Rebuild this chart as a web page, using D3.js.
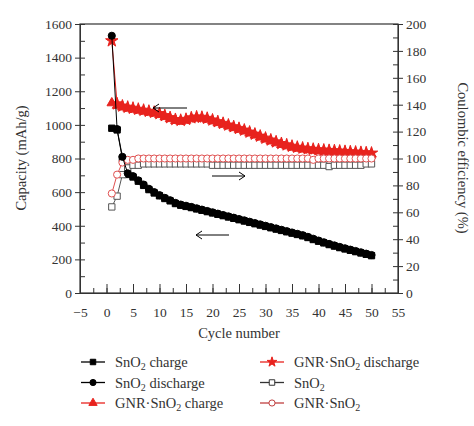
<!DOCTYPE html>
<html lang="en">
<head>
<meta charset="utf-8">
<script src="https://d3js.org/d3.v7.min.js"></script>
<style>body{margin:0;background:#fff}text{font-family:"Liberation Serif",serif;fill:#333}</style>
</head>
<body>
<script>
var cycles = d3.range(1, 51);
var sno2Charge = [980,970,800,705,690,665,640,615,595,578,562,548,532,522,515,508,500,492,484,476,468,460,452,444,436,428,420,412,404,396,388,380,372,364,356,348,340,330,318,308,298,288,279,270,262,254,246,238,230,222];
var sno2Discharge = [1530,975,810,712,695,670,645,620,600,582,566,552,536,526,519,512,504,496,488,480,472,464,456,448,440,432,424,416,408,400,392,384,376,368,360,352,344,334,323,312,302,292,283,274,266,258,250,242,234,226];
var gnrCharge = [1130,1115,1105,1098,1092,1086,1080,1074,1068,1060,1048,1036,1025,1020,1026,1035,1040,1038,1032,1022,1012,1002,992,982,972,962,950,938,926,914,903,892,882,874,866,860,855,851,848,845,843,841,839,837,835,833,831,829,827,825];
var gnrDischarge = [1500,1125,1112,1105,1099,1093,1087,1081,1075,1067,1055,1043,1032,1027,1033,1042,1047,1045,1039,1029,1019,1009,999,989,979,969,957,945,933,921,910,899,889,881,873,867,862,858,855,852,850,848,846,844,842,840,838,836,834,832];
var ceSnO2 = [64,72,88,93,95,95,96,96,96,96,96,96,96,96,96,96,96,96,96,95,95,95,95,95,95,95,95,95,95,95,95,95,95,95,95,95,95,95,95,95,95,94,95,95,95,95,95,95,96,96];
var ceGnr = [74,88,97,99,99,100,100,100,100,100,100,100,100,100,100,100,100,100,100,100,100,100,100,100,100,100,100,100,100,100,100,100,100,100,100,100,100,100,99,100,100,100,100,100,100,100,100,100,100,100];
var xTicks = d3.range(-5, 56, 5);
var yTicks = d3.range(0, 1601, 200);
var y2Ticks = d3.range(0, 201, 20);

var red = "#e8231e";
var svg = d3.select("body").append("svg").attr("width", 474).attr("height", 426);
var x = d3.scaleLinear().domain([-5, 55]).range([80, 398]);
var y = d3.scaleLinear().domain([0, 1600]).range([293, 24]);
var y2 = d3.scaleLinear().domain([0, 200]).range([293, 24]);

// frame
svg.append("rect").attr("x", 80).attr("y", 24).attr("width", 318).attr("height", 269)
  .attr("fill", "none").attr("stroke", "#333").attr("stroke-width", 1.2);

function axisStyle(g){ g.selectAll("path").attr("stroke", "#333"); g.selectAll("line").attr("stroke", "#333"); g.selectAll("text").attr("font-size", 13.5).attr("font-family", "Liberation Serif").attr("fill", "#333"); }

svg.append("g").attr("transform", "translate(0,293)")
  .call(d3.axisBottom(x).tickValues(d3.range(-5, 55.1, 2.5)).tickSize(-5).tickFormat(""))
  .call(axisStyle);
svg.append("g").attr("transform", "translate(0,293)")
  .call(d3.axisBottom(x).tickValues(xTicks).tickSize(-9).tickPadding(14).tickFormat(d => d < 0 ? "\u2212" + (-d) : d))
  .call(axisStyle);
svg.append("g").attr("transform", "translate(80,0)")
  .call(d3.axisLeft(y).tickValues(d3.range(0, 1601, 100)).tickSize(-5).tickFormat(""))
  .call(axisStyle);
svg.append("g").attr("transform", "translate(80,0)")
  .call(d3.axisLeft(y).tickValues(yTicks).tickSize(5).tickFormat(d => d))
  .call(axisStyle);
svg.append("g").attr("transform", "translate(398,0)")
  .call(d3.axisRight(y2).tickValues(d3.range(0, 201, 10)).tickSize(-5).tickFormat(""))
  .call(axisStyle);
svg.append("g").attr("transform", "translate(398,0)")
  .call(d3.axisRight(y2).tickValues(y2Ticks).tickSize(5).tickFormat(d => d))
  .call(axisStyle);

svg.append("text").attr("x", 239).attr("y", 338).attr("text-anchor", "middle").attr("font-size", 14.5).text("Cycle number");
svg.append("text").attr("transform", "translate(26,158) rotate(-90)").attr("text-anchor", "middle").attr("font-size", 14.5).text("Capacity (mAh/g)");
svg.append("text").attr("transform", "translate(458,158) rotate(90)").attr("text-anchor", "middle").attr("font-size", 14.5).text("Coulombic efficiency (%)");

var series = [
  {vals: sno2Charge, sc: y, shape: d3.symbolSquare, fill: "#000", stroke: "#000", line: "#000"},
  {vals: gnrCharge, sc: y, shape: d3.symbolTriangle, fill: red, stroke: red, line: red},
  {vals: gnrDischarge, sc: y, shape: d3.symbolStar, fill: red, stroke: red, line: red},
  {vals: ceSnO2, sc: y2, shape: d3.symbolSquare, fill: "#fff", stroke: "#555", line: "#555"},
  {vals: ceGnr, sc: y2, shape: d3.symbolCircle, fill: "#fff", stroke: "#e05050", line: "#e05050"},
  {vals: sno2Discharge, sc: y, shape: d3.symbolCircle, fill: "#000", stroke: "#000", line: "#000"}
];
var line = d3.line();
series.forEach(function(s){
  var pts = s.vals.map((v, i) => [x(cycles[i]), s.sc(v)]);
  svg.append("path").attr("d", line(pts)).attr("fill", "none").attr("stroke", s.line).attr("stroke-width", 1);
  svg.append("g").selectAll("path").data(pts).enter().append("path")
    .attr("transform", d => "translate(" + d[0] + "," + d[1] + ")")
    .attr("d", d3.symbol().type(s.shape).size(s.shape === d3.symbolStar ? 48 : 40))
    .attr("fill", s.fill).attr("stroke", s.stroke).attr("stroke-width", 1);
});

// arrows
function arrow(x1, x2, yy){
  svg.append("line").attr("x1", x1).attr("x2", x2).attr("y1", yy).attr("y2", yy).attr("stroke", "#000").attr("stroke-width", 1);
  var d = x2 > x1 ? -6 : 6;
  svg.append("path").attr("d", "M" + (x2 + d) + "," + (yy - 4) + "L" + x2 + "," + yy + "L" + (x2 + d) + "," + (yy + 4))
    .attr("fill", "none").attr("stroke", "#000").attr("stroke-width", 1);
}
arrow(187, 153, 108);
arrow(212, 245, 176);
arrow(229, 196, 235);

// legend
var legend = [
  {c: 0, r: 0, label: "SnO", sub: "2", rest: " charge", shape: d3.symbolSquare, fill: "#000", stroke: "#000", line: "#000"},
  {c: 0, r: 1, label: "SnO", sub: "2", rest: " discharge", shape: d3.symbolCircle, fill: "#000", stroke: "#000", line: "#000"},
  {c: 0, r: 2, label: "GNR\u00b7SnO", sub: "2", rest: " charge", shape: d3.symbolTriangle, fill: red, stroke: red, line: red},
  {c: 1, r: 0, label: "GNR\u00b7SnO", sub: "2", rest: " discharge", shape: d3.symbolStar, fill: red, stroke: red, line: red},
  {c: 1, r: 1, label: "SnO", sub: "2", rest: "", shape: d3.symbolSquare, fill: "#fff", stroke: "#333", line: "#333"},
  {c: 1, r: 2, label: "GNR\u00b7SnO", sub: "2", rest: "", shape: d3.symbolCircle, fill: "#fff", stroke: "#c04040", line: "#c04040"}
];
legend.forEach(function(l){
  var lx = l.c ? 260 : 81, ly = 362 + l.r * 20.5;
  svg.append("line").attr("x1", lx).attr("x2", lx + 24).attr("y1", ly).attr("y2", ly).attr("stroke", l.line).attr("stroke-width", 1.3);
  svg.append("path").attr("transform", "translate(" + (lx + 12) + "," + ly + ")")
    .attr("d", d3.symbol().type(l.shape).size(30)).attr("fill", l.fill).attr("stroke", l.stroke);
  var t = svg.append("text").attr("x", lx + 34).attr("y", ly + 5).attr("font-size", 14.5);
  t.append("tspan").text(l.label);
  t.append("tspan").attr("dy", 3).attr("font-size", 10).text(l.sub);
  t.append("tspan").attr("dy", -3).text(l.rest);
});
</script>
</body>
</html>
